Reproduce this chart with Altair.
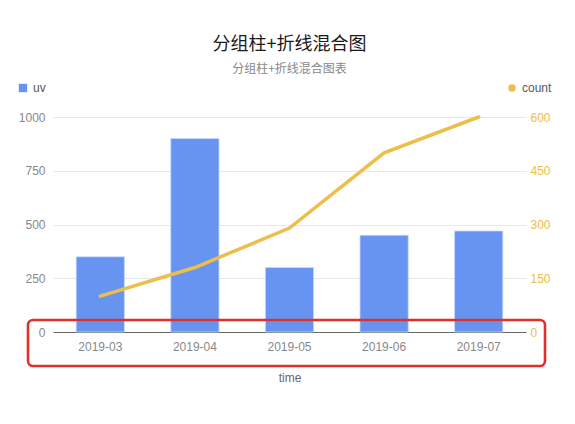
import altair as alt
import pandas as pd

months = ["2019-03", "2019-04", "2019-05", "2019-06", "2019-07"]
uv = [350, 900, 300, 450, 470]
count = [100, 180, 290, 500, 600]
uv_ticks = [0, 250, 500, 750, 1000]
count_ticks = [0, 150, 300, 450, 600]

BLUE = "#6794F0"
YELLOW = "#ECBE4A"
FONT = "Liberation Sans, Noto Sans CJK SC"

df = pd.DataFrame({"time": months, "uv": uv, "count": count})
df["s_uv"] = "uv"
df["s_count"] = "count"

W, H = 473, 215

xenc = alt.X("time:N", sort=months, title="time",
             scale=alt.Scale(paddingInner=0.49, paddingOuter=0.245),
             axis=alt.Axis(labelAngle=0, ticks=False, domain=True, domainColor="#666666",
                           labelColor="#888888", labelFontSize=12, labelPadding=9,
                           titleColor="#666666", titleFontSize=12, titleFontWeight="normal",
                           titlePadding=20, labelFont=FONT, titleFont=FONT))

bars = alt.Chart(df).mark_bar(color=BLUE, stroke="#c9d9fb", strokeWidth=0.8).encode(
    x=xenc,
    y=alt.Y("uv:Q", title=None, scale=alt.Scale(domain=[0, 1000]),
            axis=alt.Axis(values=uv_ticks, format="d", orient="left", domain=False, ticks=False,
                          grid=True, gridColor="#e8e8e8", labelColor="#888888",
                          labelFontSize=12, labelPadding=8, labelFont=FONT)),
    color=alt.Color("s_uv:N", scale=alt.Scale(domain=["uv"], range=[BLUE]),
                    legend=alt.Legend(title=None, orient="none", legendX=-36, legendY=-35,
                                      symbolType="square", symbolSize=70,
                                      symbolFillColor=BLUE, symbolStrokeWidth=0,
                                      labelFontSize=12, labelColor="#595959", labelFont=FONT)),
)

line = alt.Chart(df).mark_line(color=YELLOW, strokeWidth=3.5, strokeCap="round").encode(
    x=alt.X("time:N", sort=months),
    y=alt.Y("count:Q", title=None, scale=alt.Scale(domain=[0, 600]),
            axis=alt.Axis(values=count_ticks, format="d", orient="right", domain=False, ticks=False,
                          grid=False, labelColor=YELLOW, labelFontSize=12, labelPadding=4,
                          labelFont=FONT)),
    color=alt.Color("s_count:N", scale=alt.Scale(domain=["count"], range=[YELLOW]),
                    legend=alt.Legend(title=None, orient="none", legendX=453, legendY=-35,
                                      symbolType="circle", symbolSize=55,
                                      symbolFillColor=YELLOW, symbolStrokeWidth=0,
                                      labelFontSize=12, labelColor="#595959", labelFont=FONT)),
)

box = alt.Chart(pd.DataFrame({"a": [0]})).mark_rect(
    filled=False, stroke="#E0302C", strokeWidth=2.6, cornerRadius=5
).encode(x=alt.value(-25), x2=alt.value(492), y=alt.value(203), y2=alt.value(249))

chart = alt.layer(bars, line, box).resolve_scale(
    y="independent", color="independent"
).properties(
    width=W, height=H,
    autosize=alt.AutoSizeParams(type="none"),
    padding={"left": 45, "top": 109, "right": 40, "bottom": 84},
    title=alt.TitleParams(
        text="分组柱+折线混合图", subtitle="分组柱+折线混合图表",
        anchor="middle", fontSize=18, fontWeight="normal", color="#1a1a1a",
        subtitleFontSize=12, subtitleColor="#888888", subtitlePadding=10,
        font="Noto Sans CJK SC", subtitleFont="Noto Sans CJK SC", offset=7,
    ),
).configure_view(stroke=None)

chart.save("out.html", embed_options={"renderer": "svg", "actions": False})
